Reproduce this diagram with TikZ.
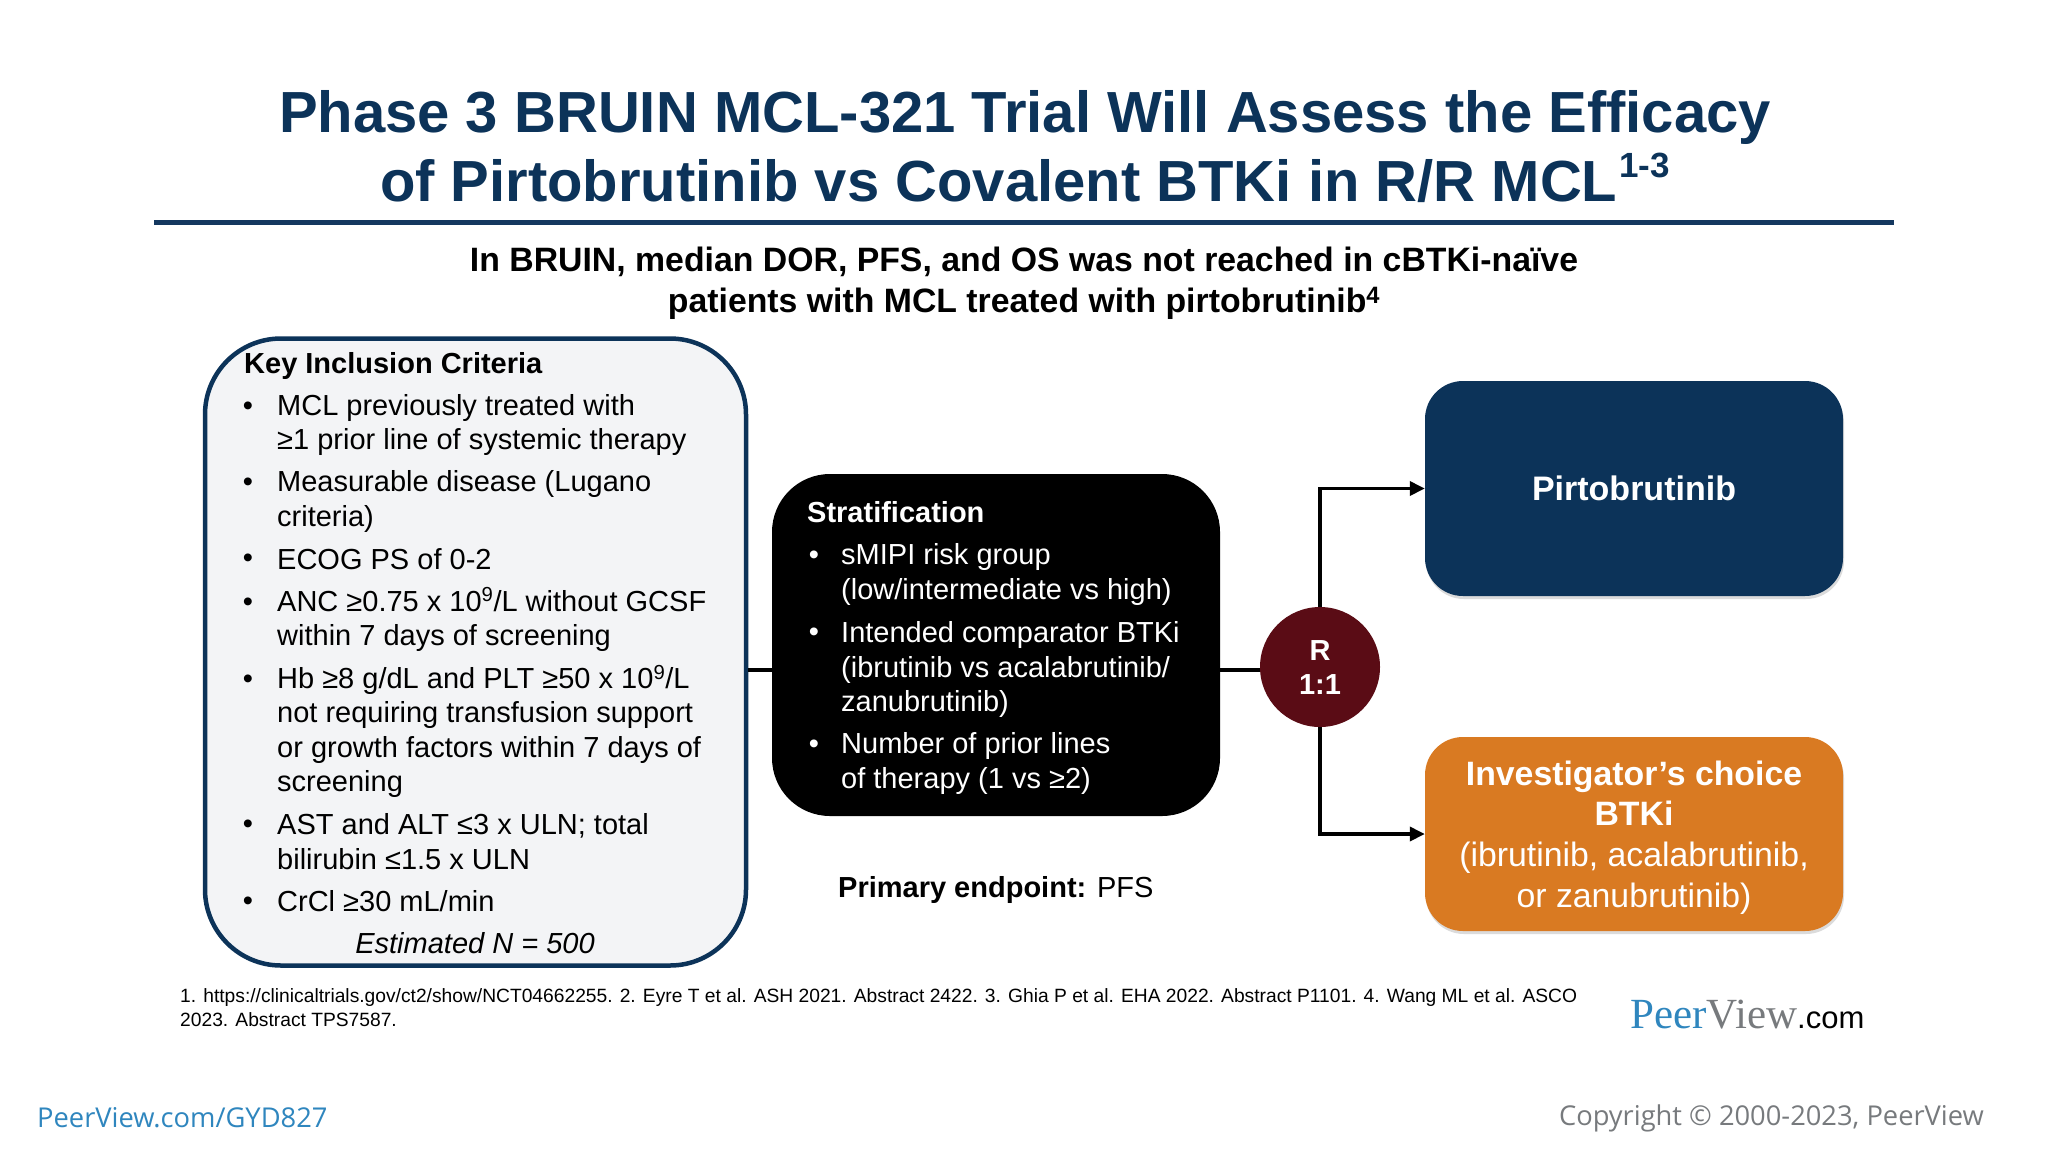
\documentclass[tikz,border=0pt]{standalone}
\usepackage{fontspec}
\usepackage{xcolor}
\setmainfont{Liberation Sans}
\newfontfamily\footfont{Open Sans}
\newfontfamily\logofont{Liberation Serif}
\usetikzlibrary{arrows.meta, shadows, calc}
\definecolor{navy}{HTML}{0C3359}
\definecolor{rulenavy}{HTML}{14385F}
\definecolor{orangebox}{HTML}{D97A22}
\definecolor{maroon}{HTML}{5A0C15}
\definecolor{paleback}{HTML}{F3F4F6}
\definecolor{peerblue}{HTML}{2F86BE}
\definecolor{peergray}{HTML}{777A7D}
\newcommand{\bodysize}{\fontsize{29}{34.4}\selectfont}
\tikzset{
  softshade/.style={drop shadow={shadow xshift=1pt,shadow yshift=-3pt,fill=black,opacity=0.14}},
  critbox/.style={draw=navy,line width=4.5pt,fill=paleback,rounded corners=76pt,minimum width=541pt,minimum height=627pt,inner sep=0pt},
  stratbox/.style={fill=black,rounded corners=58pt,minimum width=448pt,minimum height=342pt,inner sep=0pt},
  armbox/.style={rounded corners=38pt,minimum width=418pt,inner sep=0pt,softshade},
  armtext/.style={text=white,align=center,inner sep=0pt},
  listitem/.style={anchor=west,align=left,inner sep=0pt,font=\bodysize},
  listdot/.style={inner sep=0pt,font=\bodysize},
  linkline/.style={line width=3.5pt},
  arrowline/.style={line width=3.5pt,-{Triangle[length=15pt,width=14pt]}}
}
\begin{document}
\begin{tikzpicture}[x=1pt,y=-1pt]
\useasboundingbox (0,0) rectangle (2048,1152);

\node[font=\fontsize{58}{69}\selectfont\bfseries,text=navy,align=center,inner sep=0pt] (title) at (1025,147)
  {Phase 3 BRUIN MCL-321 Trial Will Assess the Efficacy\\of Pirtobrutinib vs Covalent BTKi in R/R MCL\hspace{2pt}\raisebox{24pt}{\fontsize{35}{35}\selectfont 1-3}};
\draw[rulenavy,line width=5pt] (154,222) coordinate (ruleL) -- (1894,222) coordinate (ruleR);
\node[font=\fontsize{33.8}{41}\selectfont\bfseries,align=center,inner sep=0pt] (subtitle) at (1024,283.5)
  {In BRUIN, median DOR, PFS, and OS was not reached in cBTKi-naïve\\patients with MCL treated with pirtobrutinib\textsuperscript{4}};

\node[critbox] (crit) at (475.5,652) {};
\node[stratbox] (strat) at (996,645) {};
\node[armbox,fill=navy,minimum height=215pt] (pirto) at (1634,488.5) {};
\node[armtext,font=\fontsize{34}{40}\selectfont\bfseries] (pirtotext) at (pirto.center) {Pirtobrutinib};
\node[armbox,fill=orangebox,minimum height=194pt] (invest) at (1634,834) {};
\node[armtext,font=\fontsize{33.8}{40.6}\selectfont] (investtext) at ([yshift=-3.5pt]invest.center)
  {\textbf{Investigator’s choice}\\\textbf{BTKi}\\(ibrutinib, acalabrutinib,\\or zanubrutinib)};
\node[circle,fill=maroon,minimum size=120pt,inner sep=0pt] (rand) at (1320,667) {};
\node[armtext,font=\fontsize{29}{34}\selectfont\bfseries] (randtext) at ([yshift=-1pt]rand.center) {R\\1:1};

\coordinate (join) at ($(rand.west)+(0,3)$);
\draw[linkline] (crit.east |- join) -- (strat.west |- join);
\draw[linkline] (strat.east |- join) -- (join);
\draw[arrowline] (rand.north) |- (pirto.west);
\draw[arrowline] (rand.south) |- (invest.west);

\node[anchor=west,inner sep=0pt,font=\bodysize\bfseries] (crithead) at (244,365.6) {Key Inclusion Criteria};
\foreach \y [count=\i] in {409,485,561,605,682,827,904}
  \node[listdot] (critdot\i) at (248,\y) {•};
\node[listitem] (crit1) at (277,425) {MCL previously treated with\\≥1 prior line of systemic therapy};
\node[listitem] (crit2) at (277,501.6) {Measurable disease (Lugano\\criteria)};
\node[listitem] (crit3) at (277,559) {ECOG PS of 0-2};
\node[listitem] (crit4) at (277,619.6) {ANC ≥0.75 x 10\textsuperscript{9}/L without GCSF\\within 7 days of screening};
\node[listitem] (crit5) at (277,731.3) {Hb ≥8 g/dL and PLT ≥50 x 10\textsuperscript{9}/L\\not requiring transfusion support\\or growth factors within 7 days of\\screening};
\node[listitem] (crit6) at (277,841.5) {AST and ALT ≤3 x ULN; total\\bilirubin ≤1.5 x ULN};
\node[listitem] (crit7) at (277,901) {CrCl ≥30 mL/min};
\node[inner sep=0pt,font=\bodysize\itshape] (critn) at (475,943) {Estimated N = 500};

\node[anchor=west,inner sep=0pt,text=white,font=\bodysize\bfseries] (strathead) at (807,512) {Stratification};
\foreach \y [count=\i] in {558,635,747}
  \node[listdot,text=white] (stratdot\i) at (814,\y) {•};
\node[listitem,text=white] (strat1) at (841,574.6) {sMIPI risk group\\(low/intermediate vs high)};
\node[listitem,text=white] (strat2) at (841,669.6) {Intended comparator BTKi\\(ibrutinib vs acalabrutinib/\\zanubrutinib)};
\node[listitem,text=white] (strat3) at (841,763.6) {Number of prior lines\\of therapy (1 vs ≥2)};

\node[anchor=west,inner sep=0pt,font=\bodysize] (endpoint) at (838,889.6) {\textbf{Primary endpoint:} PFS};

\node[anchor=north west,align=left,inner sep=0pt,font=\fontsize{19.23}{23.5}\selectfont] (refs) at (180,988.6)
  {1. https://clinicaltrials.gov/ct2/show/NCT04662255. 2. Eyre T et al. ASH 2021. Abstract 2422. 3. Ghia P et al. EHA 2022. Abstract P1101. 4. Wang ML et al. ASCO\\2023. Abstract TPS7587.};
\node[anchor=west,inner sep=0pt,font=\fontsize{43}{48}\selectfont] (logo) at (1630,1015)
  {{\logofont\textcolor{peerblue}{Peer}\textcolor{peergray}{View}}\fontsize{31}{48}\selectfont.com};
\node[anchor=west,inner sep=0pt,text=peerblue,font=\footfont\fontsize{27.3}{32}\selectfont] (link) at (37,1118) {PeerView.com/GYD827};
\node[anchor=east,inner sep=0pt,text=peergray,font=\footfont\fontsize{27.3}{32}\selectfont] (copy) at (1984,1118) {Copyright © 2000-2023, PeerView};
\end{tikzpicture}
\end{document}
